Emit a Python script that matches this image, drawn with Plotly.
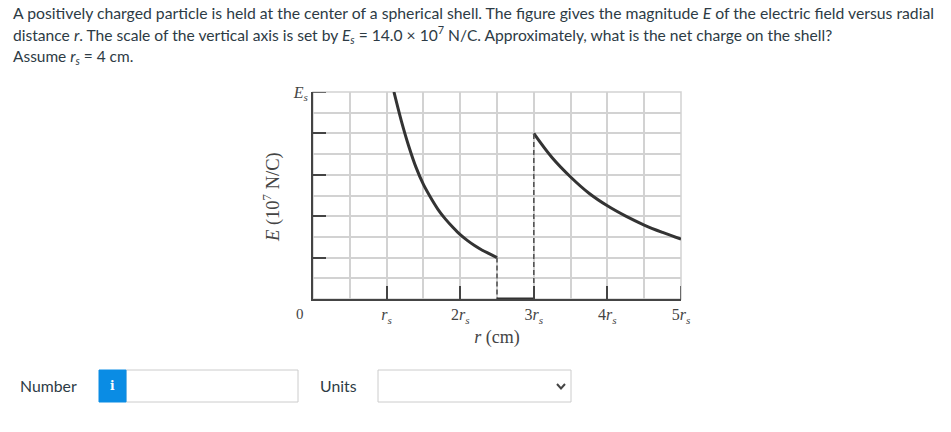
import plotly.graph_objects as go

# Data (x in units of r_s, y in 10^7 N/C)
inner_r = [1.10, 1.20, 1.30, 1.40, 1.50, 1.60, 1.70, 1.80, 1.90, 2.00, 2.10, 2.20, 2.30, 2.40, 2.50]
inner_E = [14.0, 12.05, 10.35, 8.9, 7.75, 6.85, 6.05, 5.4, 4.85, 4.35, 3.95, 3.6, 3.3, 3.05, 2.8]
outer_r = [3.0, 3.25, 3.5, 3.75, 4.0, 4.25, 4.5, 4.75, 5.0]
outer_E = [11.2, 9.55, 8.25, 7.15, 6.3, 5.6, 5.0, 4.5, 4.05]
zero_r = [2.5, 3.0]
zero_E = [0, 0]
drop_r = [2.5, 2.5]
drop_E = [2.8, 0]
rise_r = [3.0, 3.0]
rise_E = [0, 11.2]
x_ticks = [1, 2, 3, 4, 5]
x_labels = ["<i>r<sub>s</sub></i>", "2<i>r<sub>s</sub></i>", "3<i>r<sub>s</sub></i>", "4<i>r<sub>s</sub></i>", "5<i>r<sub>s</sub></i>"]
y_ticks = [0, 2.8, 5.6, 8.4, 11.2, 14.0]
y_labels = ["", "", "", "", "", "<i>E<sub>s</sub></i>"]
question = [
    "A positively charged particle is held at the center of a spherical shell. The figure gives the magnitude <i>E</i> of the electric field versus radial",
    "distance <i>r</i>. The scale of the vertical axis is set by <i>E<sub>s</sub></i> = 14.0 × 10<sup>7</sup> N/C. Approximately, what is the net charge on the shell?",
    "Assume <i>r<sub>s</sub></i> = 4 cm.",
]

W, H = 951, 432
L, R, T, B = 313, 681, 92, 299
TEXT = "#2d3b45"
SERIF = "Liberation Serif"
BODY = 15.8
AXIS = "#444444"
TICK = 13


def px(x):
    return (x - L) / (R - L)


def py(y):
    return (B - y) / (B - T)


fig = go.Figure()
dark = dict(color="#333333", width=3.0)
dash = dict(color="#555555", width=1.6, dash="5px,3px")
fig.add_trace(go.Scatter(x=inner_r, y=inner_E, mode="lines", line=dict(shape="spline", **dark), cliponaxis=False))
fig.add_trace(go.Scatter(x=outer_r, y=outer_E, mode="lines", line=dict(shape="spline", **dark), cliponaxis=False))
fig.add_trace(go.Scatter(x=drop_r, y=drop_E, mode="lines", line=dash, cliponaxis=False))
fig.add_trace(go.Scatter(x=rise_r, y=rise_E, mode="lines", line=dash, cliponaxis=False))
fig.add_trace(go.Scatter(x=zero_r, y=zero_E, mode="lines", line=dark, cliponaxis=False))

annotations = []


def text(x, y, s, size=BODY, color=TEXT, family="Lato", anchor="left", angle=0):
    annotations.append(dict(xref="paper", yref="paper", x=px(x), y=py(y), text=s, showarrow=False,
                            xanchor=anchor, yanchor="middle", align="left", borderpad=0, textangle=angle,
                            font=dict(family=family, size=size, color=color)))


for line, y, size in zip(question, [12.5, 34.5, 57.5], [15.75, 15.62, 15.45]):
    text(11.5, y, line, size=size)
text(300, 314, "0", size=15, color=AXIS, family=SERIF, anchor="center")
text(271, 197, "<i>E</i> (10<sup>7</sup> N/C)", size=18.5, color=AXIS, family=SERIF, anchor="center", angle=-90)
text(18.5, 385.5, "Number")
text(318.5, 385.5, "Units")
text(112.5, 386, "<b>i</b>", size=12, color="white", family="DejaVu Serif", anchor="center")

grid = "#d2d2d2"
shapes = [dict(type="rect", xref="paper", yref="paper", x0=0, x1=1, y0=0, y1=1,
               line=dict(color=grid, width=1.5), layer="below"),
          dict(type="line", xref="x", yref="paper", x0=x_ticks[-1], x1=x_ticks[-1], y0=0, y1=TICK / (B - T),
               line=dict(color=AXIS, width=1.5)),
          dict(type="line", xref="paper", yref="y", x0=0, x1=TICK / (R - L), y0=y_ticks[-1], y1=y_ticks[-1],
               line=dict(color=AXIS, width=1.5))]


def box(x0, y0, x1, y1, fill="white", line="#cccccc"):
    shapes.append(dict(type="rect", xref="paper", yref="paper", x0=px(x0), x1=px(x1), y0=py(y0), y1=py(y1),
                       fillcolor=fill, line=dict(color=line, width=1)))


box(126, 370, 298, 402)
box(99, 370, 126, 402, fill="#0a8ce4", line="#0a8ce4")
box(378, 370, 571, 402)
shapes.append(dict(type="path", xref="paper", yref="paper",
                   path=f"M {px(557)} {py(384)} L {px(561)} {py(388.5)} L {px(565)} {py(384)}",
                   line=dict(color=AXIS, width=2)))

fig.update_layout(
    width=W, height=H, autosize=False,
    margin=dict(l=L, r=W - R, t=T, b=H - B, pad=0),
    paper_bgcolor="white", plot_bgcolor="white", showlegend=False,
    annotations=annotations, shapes=shapes,
    xaxis=dict(
        range=[0, 5], tickmode="array", tickvals=x_ticks, ticktext=x_labels,
        ticks="inside", ticklen=TICK, tickwidth=1.5, tickcolor=AXIS,
        showgrid=True, gridcolor=grid, gridwidth=1.5,
        minor=dict(dtick=0.5, showgrid=True, gridcolor=grid, gridwidth=1.5, ticks=""),
        showline=True, linecolor=AXIS, linewidth=2, zeroline=False,
        tickfont=dict(family=SERIF, size=16, color=AXIS),
        title=dict(text="<i>r</i> (cm)", standoff=6, font=dict(family=SERIF, size=18, color=AXIS)),
    ),
    yaxis=dict(
        range=[0, 14], tickmode="array", tickvals=y_ticks, ticktext=y_labels,
        ticks="inside", ticklen=TICK, tickwidth=1.5, tickcolor=AXIS,
        showgrid=True, gridcolor=grid, gridwidth=1.5,
        minor=dict(dtick=1.4, showgrid=True, gridcolor=grid, gridwidth=1.5, ticks=""),
        showline=True, linecolor=AXIS, linewidth=2, zeroline=False,
        tickfont=dict(family=SERIF, size=16, color=AXIS),
    ),
)

fig.write_html("out.html", config={"displayModeBar": False},
               post_script="document.body.style.margin='0';")
